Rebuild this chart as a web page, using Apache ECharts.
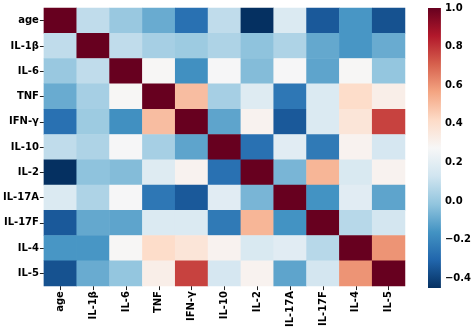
<!DOCTYPE html>
<html>
<head>
<meta charset="utf-8">
<script src="https://cdn.jsdelivr.net/npm/echarts@6/dist/echarts.min.js"></script>
<style>
  html, body { margin: 0; padding: 0; background: #fff; }
  #chart { width: 474px; height: 330px; }
</style>
</head>
<body>
<div id="chart"></div>
<script>
// Variable names (rows top to bottom, columns left to right)
const labels = ['age', 'IL-1β', 'IL-6', 'TNF', 'IFN-γ', 'IL-10', 'IL-2', 'IL-17A', 'IL-17F', 'IL-4', 'IL-5'];

// Correlation matrix, one row per variable
const rowAge    = [ 1.00,  0.09,  0.00, -0.09, -0.27,  0.09, -0.45,  0.17, -0.34, -0.15, -0.36];
const rowIL1b   = [ 0.09,  1.00,  0.09,  0.03,  0.01,  0.05, -0.02,  0.05, -0.10, -0.15, -0.09];
const rowIL6    = [ 0.00,  0.09,  1.00,  0.28, -0.17,  0.27, -0.04,  0.27, -0.11,  0.28, -0.01];
const rowTNF    = [-0.09,  0.03,  0.28,  1.00,  0.50,  0.03,  0.18, -0.25,  0.17,  0.41,  0.32];
const rowIFNg   = [-0.27,  0.01, -0.17,  0.50,  1.00, -0.11,  0.30, -0.34,  0.17,  0.37,  0.77];
const rowIL10   = [ 0.09,  0.05,  0.27,  0.03, -0.11,  1.00, -0.27,  0.19, -0.24,  0.30,  0.15];
const rowIL2    = [-0.45, -0.02, -0.04,  0.18,  0.30, -0.27,  1.00, -0.06,  0.52,  0.16,  0.30];
const rowIL17A  = [ 0.17,  0.05,  0.27, -0.25, -0.34,  0.19, -0.06,  1.00, -0.16,  0.19, -0.11];
const rowIL17F  = [-0.34, -0.10, -0.11,  0.17,  0.17, -0.24,  0.52, -0.16,  1.00,  0.07,  0.14];
const rowIL4    = [-0.15, -0.15,  0.28,  0.41,  0.37,  0.30,  0.16,  0.19,  0.07,  1.00,  0.60];
const rowIL5    = [-0.36, -0.09, -0.01,  0.32,  0.77,  0.15,  0.30, -0.11,  0.14,  0.60,  1.00];

const matrix = [rowAge, rowIL1b, rowIL6, rowTNF, rowIFNg, rowIL10, rowIL2, rowIL17A, rowIL17F, rowIL4, rowIL5];

// Colour bar tick values
const barTicks = [-0.4, -0.2, 0.0, 0.2, 0.4, 0.6, 0.8, 1.0];

// Diverging red-blue palette (low = blue, high = red)
const palette = ['#053061', '#2166ac', '#4393c3', '#92c5de', '#d1e5f0', '#f7f7f7',
                 '#fddbc7', '#f4a582', '#d6604d', '#b2182b', '#67001f'];

const allVals = matrix.flat();
const vMin = Math.min(...allVals);
const vMax = Math.max(...allVals);

const cells = [];
matrix.forEach((row, i) => row.forEach((v, j) => cells.push([j, i, v])));

const fontBase = { fontFamily: 'DejaVu Sans', fontWeight: 'bold', fontSize: 10, color: '#000' };
const fmt = v => (Math.abs(v) < 1e-9 ? 0 : v).toFixed(1).replace('-', '\u2212');

const chart = echarts.init(document.getElementById('chart'), null, { renderer: 'canvas' });
chart.setOption({
  animation: false,
  backgroundColor: '#fff',
  grid: [
    { left: 41, top: 8, width: 364, height: 280 },
    { left: 428, top: 8, width: 14, height: 280 }
  ],
  xAxis: [
    {
      gridIndex: 0, type: 'category', data: labels,
      axisLine: { show: false },
      axisTick: { show: true, alignWithLabel: true, length: 4, lineStyle: { color: '#222' } },
      axisLabel: Object.assign({ rotate: 90, margin: 5, interval: 0 }, fontBase),
      splitLine: { show: false }
    },
    { gridIndex: 1, type: 'value', min: 0, max: 1, show: false }
  ],
  yAxis: [
    {
      gridIndex: 0, type: 'category', data: labels, inverse: true,
      axisLine: { show: false },
      axisTick: { show: true, alignWithLabel: true, length: 4, lineStyle: { color: '#222' } },
      axisLabel: Object.assign({ margin: 5, interval: 0 }, fontBase),
      splitLine: { show: false }
    },
    {
      gridIndex: 1, type: 'value', min: vMin, max: vMax, position: 'right',
      axisLine: { show: false },
      axisTick: { show: true, length: 4, customValues: barTicks, lineStyle: { color: '#222' } },
      axisLabel: Object.assign({ margin: 4, customValues: barTicks, formatter: fmt }, fontBase),
      splitLine: { show: false }
    }
  ],
  visualMap: {
    show: false, type: 'continuous', seriesIndex: 0, dimension: 2,
    min: vMin, max: vMax, inRange: { color: palette }
  },
  series: [
    {
      type: 'heatmap', xAxisIndex: 0, yAxisIndex: 0, data: cells,
      itemStyle: { borderWidth: 0 },
      emphasis: { disabled: true }
    },
    {
      // colour bar drawn as a gradient strip over the value range
      type: 'custom', xAxisIndex: 1, yAxisIndex: 1,
      data: [[0, vMin, vMax]],
      renderItem: function (params, api) {
        const top = api.coord([0, api.value(2)]);
        const bottom = api.coord([1, api.value(1)]);
        const stops = palette.map((c, k) => ({ offset: 1 - k / (palette.length - 1), color: c }));
        stops.reverse();
        return {
          type: 'rect',
          shape: { x: top[0], y: top[1], width: bottom[0] - top[0], height: bottom[1] - top[1] },
          style: { fill: new echarts.graphic.LinearGradient(0, 0, 0, 1, stops) }
        };
      }
    }
  ]
});
</script>
</body>
</html>
